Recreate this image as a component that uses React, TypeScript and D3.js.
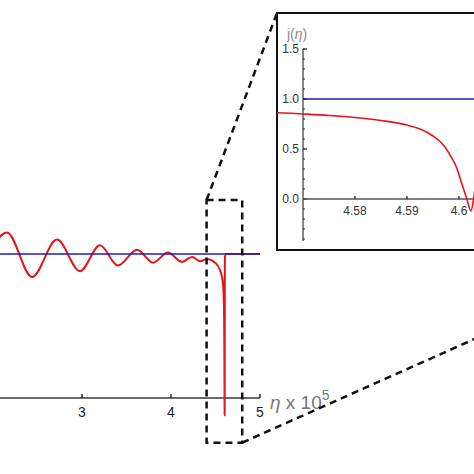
import React from "react";
import * as d3 from "d3";

// ---- data ----
const etaValues = [2.0, 2.157, 2.438, 2.719, 2.978, 3.202, 3.404, 3.618, 3.798, 3.966, 4.124, 4.236, 4.326, 4.404, 4.494, 4.55, 4.57, 4.575, 4.58, 4.585, 4.59, 4.5925, 4.595, 4.597, 4.5985, 4.5995, 4.6005, 4.6015, 4.6023, 4.6028, 4.6035, 4.605, 4.607, 4.62, 5.0];
const jValues = [1.06, 1.15, 0.84, 1.10, 0.88, 1.06, 0.92, 1.03, 0.94, 1.01, 0.945, 0.98, 0.95, 0.965, 0.94, 0.89, 0.85, 0.835, 0.815, 0.785, 0.74, 0.70, 0.63, 0.54, 0.42, 0.32, 0.16, 0.0, -0.12, 0.0, 0.3, 0.9, 0.985, 1.0, 1.0];
const referenceLevel = 1.0;

const mainXTicks = [3, 4, 5];
const insetXTicks = [4.58, 4.59, 4.6];
const insetXTickLabels = ["4.58", "4.59", "4.6"];
const insetYTicks = [0, 0.5, 1.0, 1.5];
const insetYTickLabels = ["0.0", "0.5", "1.0", "1.5"];
const insetYMinor = d3.range(-4, 16).map((d) => d / 10);

const zoomBoxEta = [4.4, 4.8];
const zoomBoxJ = [-0.31, 1.375];

const RED = "#e3161b";
const BLUE = "#1f1fb0";
const FONT = "'Liberation Sans', Arial, sans-serif";

export default function App() {
  const W = 474, H = 474;
  const data = etaValues.map((e, i) => ({ e, j: jValues[i] }));

  // main chart scales
  const x = d3.scaleLinear().domain([0, 5]).range([-185, 260]);
  const y = d3.scaleLinear().domain([0, 1]).range([398, 254]);
  const line = d3.line<{ e: number; j: number }>().x((d) => x(d.e)).y((d) => y(d.j)).curve(d3.curveMonotoneX);

  // inset scales
  const ix = d3.scaleLinear().domain([4.57, 4.6]).range([303, 459]);
  const iy = d3.scaleLinear().domain([0, 1.5]).range([199, 49]);
  const iline = d3.line<{ e: number; j: number }>().x((d) => ix(d.e)).y((d) => iy(d.j)).curve(d3.curveMonotoneX);
  const insetData = data.filter((d) => d.e >= 4.55 && d.e <= 4.62);

  const box = { x0: 277, y0: 13, x1: 674, y1: 250 };
  const zx0 = x(zoomBoxEta[0]), zx1 = x(zoomBoxEta[1]);
  const zy0 = y(zoomBoxJ[1]), zy1 = y(zoomBoxJ[0]);

  return (
    <svg width={W} height={H} style={{ position: "absolute", left: 0, top: 0, background: "#fff" }}>
      <defs>
        <clipPath id="insetClip">
          <rect x={box.x0} y={box.y0} width={box.x1 - box.x0} height={box.y1 - box.y0} />
        </clipPath>
      </defs>

      {/* main axis */}
      <line x1={x(0)} x2={x(5)} y1={y(0)} y2={y(0)} stroke="#6a6a6a" strokeWidth={2.2} />
      {mainXTicks.map((t) => (
        <g key={t}>
          <line x1={x(t)} x2={x(t)} y1={y(0)} y2={y(0) - 4} stroke="#333" strokeWidth={1.6} />
          <text x={x(t)} y={y(0) + 19} textAnchor="middle" fontFamily={FONT} fontSize={14} fill="#222">{t}</text>
        </g>
      ))}
      <text x={270} y={409} fontFamily={FONT} fontSize={19} fill="#777">
        <tspan fontStyle="italic">η</tspan>
        <tspan> x 10</tspan>
        <tspan dy={-9} fontSize={14}>5</tspan>
      </text>

      {/* main curves */}
      <path d={line(data) || ""} fill="none" stroke={RED} strokeWidth={2} />
      <line x1={x(0)} x2={x(5)} y1={y(referenceLevel)} y2={y(referenceLevel)} stroke={BLUE} strokeWidth={1.7} />

      {/* zoom box and connectors */}
      <rect x={zx0} y={zy0} width={zx1 - zx0} height={zy1 - zy0} fill="none" stroke="#111" strokeWidth={2.5} strokeDasharray="7,5" />
      <line x1={zx0} y1={zy0} x2={box.x0} y2={box.y0} stroke="#111" strokeWidth={2.5} strokeDasharray="7,5" />
      <line x1={zx1} y1={zy1} x2={box.x1} y2={box.y1} stroke="#111" strokeWidth={2.5} strokeDasharray="7,5" />

      {/* inset */}
      <rect x={box.x0} y={box.y0} width={box.x1 - box.x0} height={box.y1 - box.y0} fill="#fff" stroke="#111" strokeWidth={2} />
      <g clipPath="url(#insetClip)">
        {/* y axis */}
        <line x1={ix(4.57)} x2={ix(4.57)} y1={iy(1.5)} y2={iy(-0.42)} stroke="#444" strokeWidth={1.3} />
        {insetYMinor.map((t) => (
          <line key={"m" + t} x1={ix(4.57)} x2={ix(4.57) + 2} y1={iy(t)} y2={iy(t)} stroke="#333" strokeWidth={1.2} />
        ))}
        {insetYTicks.map((t, i) => (
          <g key={"y" + t}>
            <line x1={ix(4.57)} x2={ix(4.57) + 4} y1={iy(t)} y2={iy(t)} stroke="#333" strokeWidth={1.3} />
            <text x={ix(4.57) - 4} y={iy(t) + 4} textAnchor="end" fontFamily={FONT} fontSize={12} fill="#333">{insetYTickLabels[i]}</text>
          </g>
        ))}
        {/* x axis */}
        <line x1={ix(4.57)} x2={box.x1} y1={iy(0)} y2={iy(0)} stroke="#555" strokeWidth={1.3} />
        {insetXTicks.map((t, i) => (
          <g key={"x" + t}>
            <line x1={ix(t)} x2={ix(t)} y1={iy(0)} y2={iy(0) - 3} stroke="#333" strokeWidth={1.4} />
            <text x={ix(t)} y={iy(0) + 16} textAnchor="middle" fontFamily={FONT} fontSize={12} fill="#333">{insetXTickLabels[i]}</text>
          </g>
        ))}
        <text x={287} y={39} fontFamily={FONT} fontSize={14} fill="#888">
          j(<tspan fontStyle="italic">η</tspan>)
        </text>
        <line x1={ix(4.57)} x2={box.x1} y1={iy(referenceLevel)} y2={iy(referenceLevel)} stroke={BLUE} strokeWidth={1.6} />
        <path d={iline(insetData) || ""} fill="none" stroke={RED} strokeWidth={1.6} />
      </g>
    </svg>
  );
}
